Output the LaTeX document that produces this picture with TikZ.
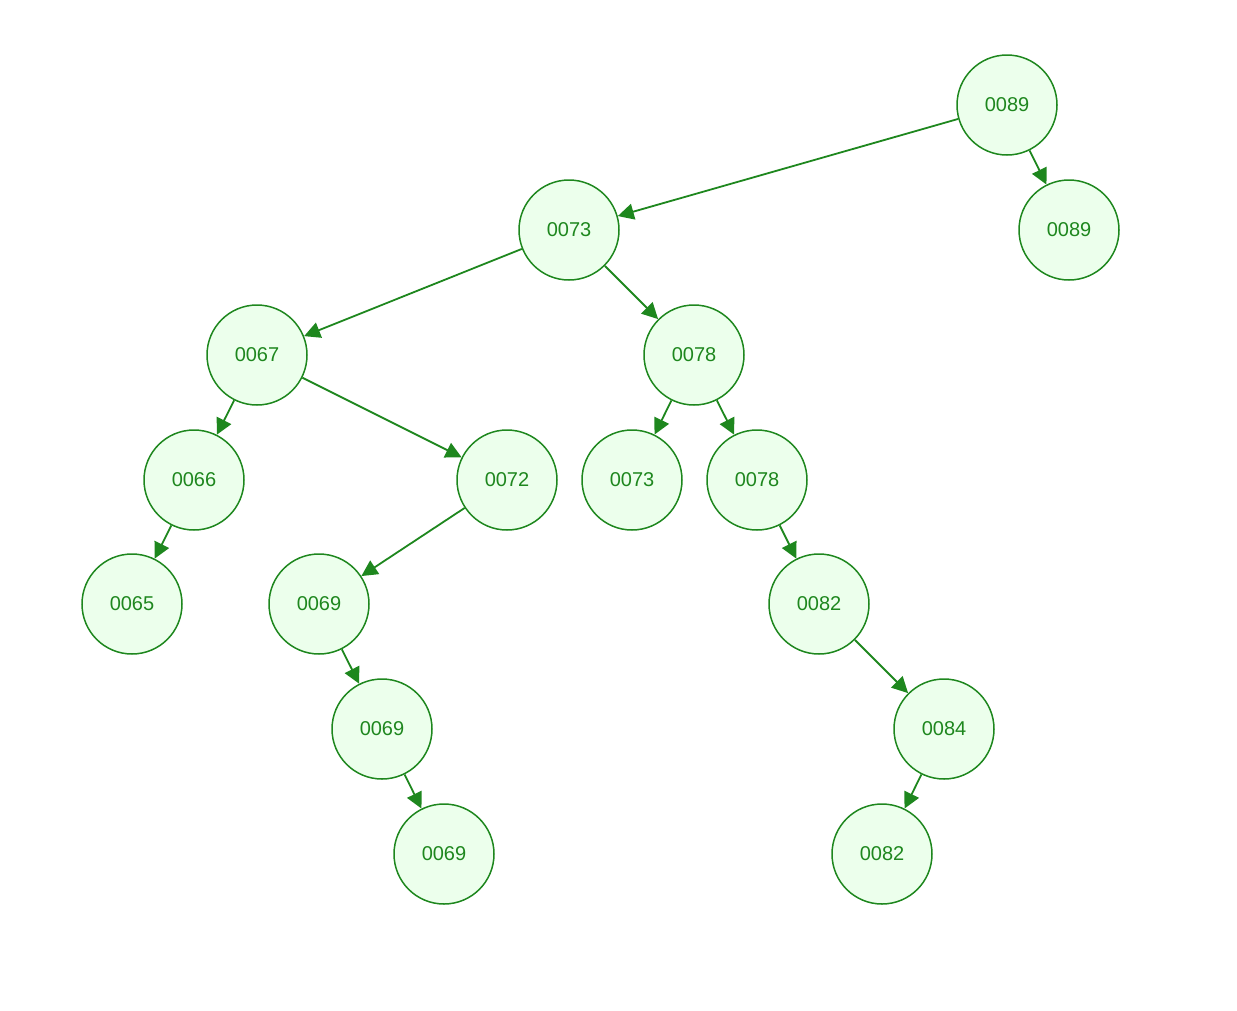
\documentclass[tikz,border=0pt]{standalone}
\usepackage{fontspec}
\setmainfont{Liberation Sans}
\usetikzlibrary{arrows.meta}
\definecolor{gline}{RGB}{30,135,30}
\definecolor{gfill}{RGB}{236,255,236}
\begin{document}
\begin{tikzpicture}[x=1pt,y=-1pt,
  tn/.style={circle,draw=gline,fill=gfill,line width=1.5pt,minimum size=100pt,inner sep=0pt,text=gline,font=\fontsize{20}{24}\selectfont},
  ed/.style={draw=gline,line width=1.8pt,-{Triangle[length=16pt,width=16pt]}}]
\useasboundingbox (0,0) rectangle (1237,1010);
\node[tn] (a) at (1007,105) {0089};
\node[tn] (b) at (569,230) {0073};
\node[tn] (c) at (1069,230) {0089};
\node[tn] (d) at (257,355) {0067};
\node[tn] (e) at (694,355) {0078};
\node[tn] (f) at (194,480) {0066};
\node[tn] (g) at (507,480) {0072};
\node[tn] (h) at (632,480) {0073};
\node[tn] (i) at (757,480) {0078};
\node[tn] (j) at (132,604) {0065};
\node[tn] (k) at (319,604) {0069};
\node[tn] (l) at (819,604) {0082};
\node[tn] (m) at (382,729) {0069};
\node[tn] (n) at (944,729) {0084};
\node[tn] (o) at (444,854) {0069};
\node[tn] (p) at (882,854) {0082};
\foreach \s/\t in {a/b,a/c,b/d,b/e,d/f,d/g,e/h,e/i,f/j,g/k,i/l,k/m,l/n,m/o,n/p}
  \draw[ed] (\s) -- (\t);
\end{tikzpicture}
\end{document}
